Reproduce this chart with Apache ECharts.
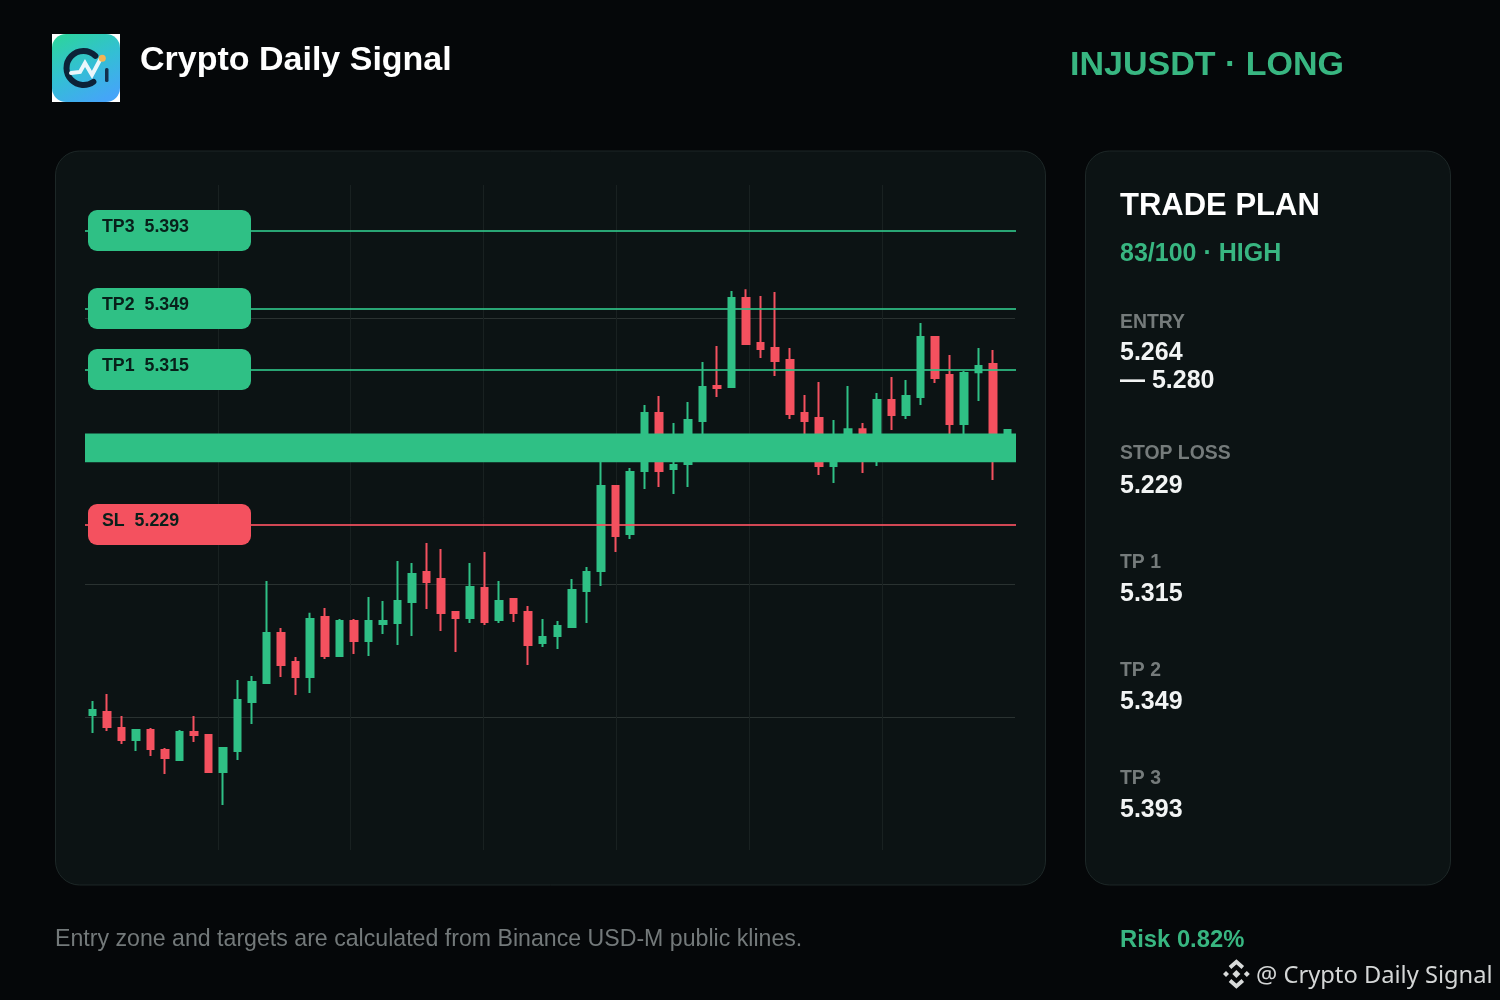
<!DOCTYPE html>
<html>
<head>
<meta charset="utf-8">
<style>html,body{margin:0;padding:0;background:#050709}#c{width:1500px;height:1000px}</style>
<script src="https://cdn.jsdelivr.net/npm/echarts@6/dist/echarts.min.js"></script>
</head>
<body>
<div id="c"></div>
<script>
const opens = [5.1230,5.1247,5.1158,5.1091,5.1147,5.1035,5.0979,5.1135,5.1119,5.0912,5.1030,5.1303,5.1409,5.1688,5.1526,5.1442,5.1777,5.1560,5.1755,5.1643,5.1738,5.1744,5.1861,5.2028,5.1989,5.1805,5.1771,5.1939,5.1760,5.1877,5.1805,5.1632,5.1671,5.1721,5.1922,5.2033,5.2508,5.2240,5.2591,5.2915,5.2602,5.2630,5.2870,5.3065,5.3060,5.3556,5.3305,5.3278,5.3211,5.2915,5.2887,5.2619,5.2708,5.2825,5.2653,5.2987,5.2904,5.3004,5.3339,5.3127,5.2853,5.3143,5.3188,5.2736];
const closes = [5.1258,5.1163,5.1091,5.1147,5.1041,5.0990,5.1135,5.1119,5.0912,5.1046,5.1314,5.1414,5.1688,5.1509,5.1442,5.1766,5.1560,5.1755,5.1643,5.1755,5.1755,5.1866,5.2017,5.1972,5.1799,5.1771,5.1944,5.1749,5.1866,5.1799,5.1621,5.1665,5.1727,5.1928,5.2028,5.2508,5.2229,5.2586,5.2915,5.2591,5.2625,5.2876,5.3060,5.3054,5.3556,5.3300,5.3272,5.3205,5.2909,5.2870,5.2619,5.2786,5.2825,5.2736,5.2987,5.2904,5.3010,5.3339,5.3110,5.2853,5.3138,5.3177,5.2764,5.2820];
const lows = [5.1130,5.1141,5.1069,5.1030,5.1002,5.0901,5.0979,5.1080,5.0912,5.0728,5.0979,5.1180,5.1409,5.1442,5.1342,5.1353,5.1543,5.1560,5.1571,5.1560,5.1682,5.1621,5.1671,5.1822,5.1699,5.1582,5.1744,5.1732,5.1744,5.1749,5.1509,5.1610,5.1599,5.1721,5.1744,5.1950,5.2140,5.2212,5.2491,5.2502,5.2463,5.2502,5.2792,5.3004,5.3060,5.3300,5.3222,5.3121,5.2881,5.2792,5.2569,5.2524,5.2681,5.2580,5.2619,5.2820,5.2881,5.2960,5.3082,5.2792,5.2792,5.2982,5.2541,5.2736];
const highs = [5.1308,5.1347,5.1225,5.1147,5.1158,5.1046,5.1147,5.1225,5.1119,5.1046,5.1426,5.1448,5.1978,5.1716,5.1554,5.1800,5.1827,5.1766,5.1766,5.1889,5.1866,5.2089,5.2078,5.2190,5.2156,5.1805,5.2078,5.2140,5.1978,5.1877,5.1838,5.1766,5.1755,5.1989,5.2056,5.2681,5.2508,5.2608,5.2960,5.3010,5.2859,5.2976,5.3199,5.3289,5.3595,5.3606,5.3568,5.3590,5.3278,5.3015,5.3088,5.2876,5.3065,5.2859,5.3026,5.3116,5.3099,5.3417,5.3339,5.3238,5.3149,5.3278,5.3266,5.2820];
const categories = opens.map((_, i) => String(i + 1));

const levelNames = ['TP3', 'TP2', 'TP1', 'SL'];
const levelValues = [5.393, 5.349, 5.315, 5.229];
const entryZone = [5.264, 5.280];
const priceMin = 5.0477, priceMax = 5.4187;

const GREEN = '#2fc085', RED = '#f4515f', TEXTGREEN = '#38b681';
const F = '"Liberation Sans", Arial, sans-serif';

function label(x, y, text, size, fill, weight) {
  return {type:'text', x, y, z:10, style:{text, font:`${weight||'bold'} ${size}px ${F}`, fill, textVerticalAlign:'middle'}};
}
const planRows = [
  ['ENTRY', 323, ['5.264', '— 5.280'], [353, 381]],
  ['STOP LOSS', 454, ['5.229'], [486]],
  ['TP 1', 563, ['5.315'], [594]],
  ['TP 2', 671, ['5.349'], [702]],
  ['TP 3', 779, ['5.393'], [810]]
];
const texts = [
  label(140, 61, 'Crypto Daily Signal', 34, '#ffffff'),
  label(1070, 66, 'INJUSDT · LONG', 34, TEXTGREEN),
  label(1120, 206, 'TRADE PLAN', 31, '#ffffff'),
  label(1120, 254, '83/100 · HIGH', 25, TEXTGREEN),
  label(55, 940, 'Entry zone and targets are calculated from Binance USD-M public klines.', 23.15, '#73797a', 'normal'),
  label(1120, 940, 'Risk 0.82%', 23.8, TEXTGREEN),
  {type:'text', x:1256, y:976, z:10, style:{text:'@ Crypto Daily Signal', font:'23.7px "Noto Sans", sans-serif', fill:'#d4d6d6', textVerticalAlign:'middle'}}
];
planRows.forEach(r => {
  texts.push(label(1120, r[1], r[0], 19.4, '#757b7b'));
  r[2].forEach((t, i) => texts.push(label(1120, r[3][i], t, 25, '#f2f4f4')));
});

const card = (x, y, w, h) => ({type:'rect', z:-1, shape:{x, y, width:w, height:h, r:24},
  style:{fill:'#0c1314', stroke:'#1d2727', lineWidth:1}});
const logo = [
  {type:'rect', z:9, shape:{x:52, y:34, width:68, height:68}, style:{fill:'#ffffff'}},
  {type:'rect', z:9, shape:{x:52, y:34, width:68, height:68, r:14}, style:{fill:{type:'linear', x:0.2, y:0, x2:0.7, y2:1, colorStops:[{offset:0, color:'#2dd3a0'},{offset:0.5, color:'#33bfd4'},{offset:1, color:'#45a5f8'}]}}},
  {type:'arc', z:9, shape:{cx:83.5, cy:68, r:17, startAngle:-0.8, endAngle:0.95, clockwise:false}, style:{stroke:'#0c2238', lineWidth:6, fill:null, lineCap:'round'}},
  {type:'polyline', z:9, shape:{points:[[71,73],[80,72],[85,63],[92,75],[101,58]]}, style:{stroke:'#eaf6fb', lineWidth:4, fill:null, lineCap:'round'}},
  {type:'circle', z:9, shape:{cx:102.3, cy:58.3, r:3.5}, style:{fill:'#f3b454'}},
  {type:'rect', z:9, shape:{x:105, y:68, width:3.5, height:14, r:1.5}, style:{fill:'#12304d'}}
];
const dia = (cx, cy, r) => ({type:'polygon', z:10, shape:{points:[[cx,cy-r],[cx+r,cy],[cx,cy+r],[cx-r,cy]]}, style:{fill:'#d8dada'}});
const binance = [
  dia(1226,974,3), dia(1246.8,974,3), dia(1236.4,974,4),
  {type:'polyline', z:10, shape:{points:[[1230,967.5],[1236.4,961.8],[1242.8,967.5]]}, style:{stroke:'#d8dada', lineWidth:3.8, fill:null}},
  {type:'polyline', z:10, shape:{points:[[1230,980.5],[1236.4,986.2],[1242.8,980.5]]}, style:{stroke:'#d8dada', lineWidth:3.8, fill:null}}
];

const chart = echarts.init(document.getElementById('c'), null, {renderer:'canvas', width:1500, height:1000});
chart.setOption({
  animation:false,
  backgroundColor:'#050709',
  textStyle:{fontFamily:F},
  graphic:{elements:[card(55.5,151,990,734), card(1085.5,151,365,734), ...logo, ...binance, ...texts]},
  grid:{left:85, top:185, width:930, height:665, containLabel:false},
  xAxis:[
    {type:'category', data:categories, boundaryGap:true, axisLine:{show:false}, axisTick:{show:false}, axisLabel:{show:false}, splitLine:{show:false}},
    {type:'value', min:0, max:7, interval:1, axisLine:{show:false}, axisTick:{show:false}, axisLabel:{show:false},
     splitLine:{show:true, showMinLine:false, showMaxLine:false, lineStyle:{color:'#192121', width:1}}}
  ],
  yAxis:[
    {type:'value', min:priceMin, max:priceMax, scale:true, axisLine:{show:false}, axisTick:{show:false}, axisLabel:{show:false}, splitLine:{show:false}},
    {type:'value', min:0, max:5, interval:1, axisLine:{show:false}, axisTick:{show:false}, axisLabel:{show:false},
     splitLine:{show:true, showMinLine:false, showMaxLine:false, lineStyle:{color:'#2a3231', width:1}}}
  ],
  series:[
    {name:'INJUSDT', type:'candlestick', z:3, xAxisIndex:0, yAxisIndex:0, barWidth:7,
     data:opens.map((o,i)=>[o,closes[i],lows[i],highs[i]]),
     itemStyle:{color:GREEN, color0:RED, borderColor:GREEN, borderColor0:RED, borderWidth:2}},
    {name:'Entry zone', type:'custom', z:4, xAxisIndex:0, yAxisIndex:0, clip:false, silent:true,
     data:[entryZone],
     renderItem(params, api){
       const g = params.coordSys;
       const top = api.coord([0, api.value(1)])[1], bot = api.coord([0, api.value(0)])[1];
       return {type:'rect', shape:{x:g.x, y:top, width:g.width+1, height:bot-top}, style:{fill:GREEN}};
     }},
    {name:'Levels', type:'custom', z:5, xAxisIndex:0, yAxisIndex:0, clip:false, silent:true,
     data:levelValues.map((v,i)=>[i, v, levelNames[i]]),
     encode:{x:0, y:1},
     renderItem(params, api){
       const g = params.coordSys;
       const i = params.dataIndex;
       const y = Math.floor(api.coord([0, levelValues[i]])[1]);
       const isSL = levelNames[i] === 'SL';
       const c = isSL ? RED : GREEN;
       return {type:'group', children:[
         {type:'rect', shape:{x:g.x, y:y-1, width:g.width+1, height:2}, style:{fill:c, opacity:0.85}},
         {type:'rect', shape:{x:g.x+3, y:y-21, width:163, height:41, r:9}, style:{fill:c}},
         {type:'text', x:g.x+17, y:y-4, style:{text:levelNames[i]+'  '+levelValues[i].toFixed(3), font:'bold 17.8px '+F, fill:'#08201a', textVerticalAlign:'middle'}}
       ]};
     }}
  ]
});
</script>
</body>
</html>
